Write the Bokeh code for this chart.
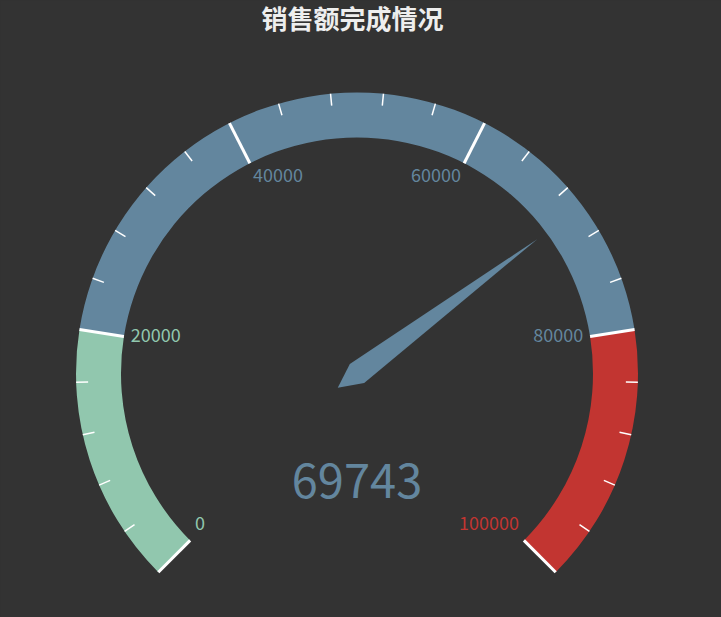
import math
from bokeh.plotting import figure
from bokeh.models import ColumnDataSource, Range1d, GlobalInlineStyleSheet
from bokeh.core.properties import value
from bokeh.embed import file_html
from bokeh.resources import INLINE

# ---------------- data ----------------
title_text = "销售额完成情况"
gauge_min = 0
gauge_max = 100000
split_number = 5
sub_split_number = 5
gauge_value = 69743
band_stops = [0.2, 0.8, 1.0]
band_colors = ["#91c7ae", "#63869e", "#c23531"]
tick_labels = ["0", "20000", "40000", "60000", "80000", "100000"]

# ---------------- layout ----------------
W, H = 721, 617
CX, CY = 356.5, 373.0          # gauge centre in page pixels
R_OUT = 281.0
LINE_W = 45.0
R_IN = R_OUT - LINE_W
TICK_LEN = 12.0
LABEL_R = R_OUT - LINE_W - 7.0
START_DEG, END_DEG = 225.0, -45.0
FONT = "Noto Sans CJK SC"
BG = "#333333"
BASE_SHIFT = {"top": 1.0, "middle": 3.0, "bottom": 5.0}


def frac(v):
    return (v - gauge_min) / (gauge_max - gauge_min)


def ang(v):
    return math.radians(START_DEG + (END_DEG - START_DEG) * frac(v))


def color_at(f):
    for s, c in zip(band_stops, band_colors):
        if f <= s + 1e-9:
            return c
    return band_colors[-1]


def py(page_y):
    return CY - page_y


p = figure(width=W, height=H,
           x_range=Range1d(-CX, W - CX),
           y_range=Range1d(CY - H, CY),
           output_backend="svg", toolbar_location=None,
           x_axis_location=None, y_axis_location=None,
           min_border=0, background_fill_color=BG, border_fill_color=BG,
           outline_line_color=None)
p.grid.visible = False
p.stylesheets = [GlobalInlineStyleSheet(css="html, body { background-color: #333333; overflow: hidden; }")]

# ---- colored axis bands ----
starts, ends = [], []
prev = 0.0
for s in band_stops:
    v0 = gauge_min + prev * (gauge_max - gauge_min)
    v1 = gauge_min + s * (gauge_max - gauge_min)
    starts.append(ang(v1))
    ends.append(ang(v0))
    prev = s
band_src = ColumnDataSource(dict(x=[0.0] * len(band_stops), y=[0.0] * len(band_stops),
                                 sa=starts, ea=ends, color=band_colors))
p.annular_wedge(x="x", y="y", inner_radius=R_IN, outer_radius=R_OUT,
                start_angle="sa", end_angle="ea", direction="anticlock",
                fill_color="color", line_color=None, source=band_src)

# ---- ticks ----
step = (gauge_max - gauge_min) / split_number
sub = step / sub_split_number
tx0, ty0, tx1, ty1 = [], [], [], []
for i in range(split_number):
    for j in range(1, sub_split_number):
        v = gauge_min + i * step + j * sub
        a = ang(v)
        tx0.append(R_OUT * math.cos(a)); ty0.append(R_OUT * math.sin(a))
        tx1.append((R_OUT - TICK_LEN) * math.cos(a)); ty1.append((R_OUT - TICK_LEN) * math.sin(a))
p.segment(x0=tx0, y0=ty0, x1=tx1, y1=ty1, line_color="#ffffff", line_width=1.5)

# ---- split lines ----
sx0, sy0, sx1, sy1 = [], [], [], []
for i in range(split_number + 1):
    a = ang(gauge_min + i * step)
    sx0.append(R_OUT * math.cos(a)); sy0.append(R_OUT * math.sin(a))
    sx1.append(R_IN * math.cos(a)); sy1.append(R_IN * math.sin(a))
p.segment(x0=sx0, y0=sy0, x1=sx1, y1=sy1, line_color="#ffffff", line_width=3)

# ---- axis labels ----
lx, ly, la, lb, lc = [], [], [], [], []
for i, lab in enumerate(tick_labels):
    v = gauge_min + i * step
    a = ang(v)
    ux, uy = math.cos(a), -math.sin(a)   # screen unit vector
    base = "top" if uy < -0.4 else ("bottom" if uy > 0.4 else "middle")
    lx.append(LABEL_R * math.cos(a)); ly.append(LABEL_R * math.sin(a) + BASE_SHIFT[base])
    la.append("left" if ux < -0.4 else ("right" if ux > 0.4 else "center"))
    lb.append(base)
    lc.append(color_at(frac(v)))
lab_src = ColumnDataSource(dict(x=lx, y=ly, text=tick_labels, align=la, base=lb, color=lc))
p.text(x="x", y="y", text="text", text_align="align", text_baseline="base",
       text_color="color", text_font=value(FONT), text_font_size="18px", source=lab_src)

# ---- pointer ----
a = ang(gauge_value)
pw = 12.0
plen = 0.8 * R_OUT
dx, dy = math.cos(a), math.sin(a)
nx, ny = -dy, dx
px = [-dx * pw * 2, nx * pw, dx * plen, -nx * pw]
pyy = [-dy * pw * 2, ny * pw, dy * plen, -ny * pw]
p.patch(px, pyy, fill_color=color_at(frac(gauge_value)), line_color=None)

# ---- detail value ----
p.text(x=[0.0], y=[py(480)], text=[str(gauge_value)], text_align="center",
       text_baseline="middle", text_color=color_at(frac(gauge_value)),
       text_font=value(FONT), text_font_size="47px")

# ---- title ----
p.text(x=[352 - CX], y=[py(17)], text=[title_text], text_align="center",
       text_baseline="middle", text_color="#eeeeee", text_font=value(FONT),
       text_font_size="26px", text_font_style="bold")

open("out.html", "w").write(file_html(p, INLINE))
